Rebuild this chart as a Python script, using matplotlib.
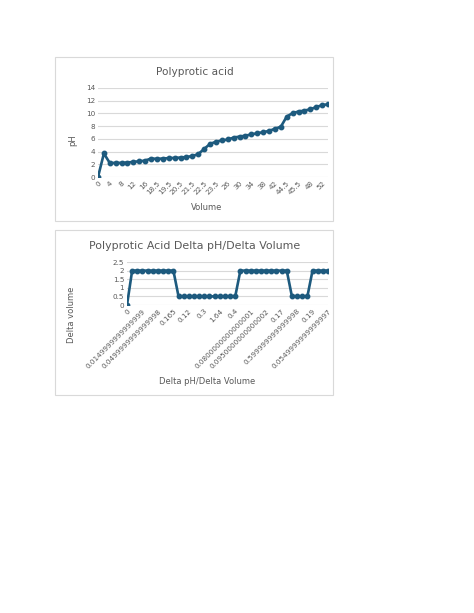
import matplotlib.pyplot as plt
from matplotlib.patches import Rectangle

# titration data
volume = [0, 2, 4, 6, 8, 10, 12, 14, 16, 18,
          18.5, 19, 19.5, 20, 20.5, 21, 21.5, 22, 22.5, 23, 23.5, 24,
          26, 28, 30, 32, 34, 36, 38, 40, 42, 44,
          44.5, 45, 45.5, 46, 48, 50, 52, 54]
ph = [0, 3.7, 2.2, 2.23, 2.23, 2.28, 2.38, 2.48, 2.58, 2.91,
      2.86, 2.91, 2.97, 3.01, 3.06, 3.15, 3.3, 3.6, 4.42, 5.2, 5.55, 5.75,
      5.9, 6.2, 6.36, 6.5, 6.7, 6.89, 7.05, 7.25, 7.59, 7.9,
      9.5, 10.05, 10.3, 10.45, 10.65, 11.0, 11.3, 11.45]

# second chart: categories are dpH/dV, values are delta volume
dph_dv = ["0", "1.85", "-0.75", "0.0149999999999999", "0", "0.025",
          "0.0499999999999998", "0.05", "0.05", "0.165", "-0.1", "0.1",
          "0.12", "0.08", "0.1", "0.3", "0.3", "0.6", "1.64", "1.56",
          "0.7", "0.4", "0.075", "0.15", "0.0800000000000001", "0.07",
          "0.1", "0.0950000000000002", "0.08", "0.1", "0.17", "0.155",
          "3.2", "0.599999999999998", "0.5", "0.3", "0.19", "0.175",
          "0.15", "0.0549999999999997"]
delta_volume = [0] + [2] * 9 + [0.5] * 12 + [2] * 10 + [0.5] * 4 + [2] * 4

W, H = 474, 613
LINE = "#1d5a7e"
TXT = "#595959"
GRID = "#d9d9d9"

plt.rcParams["font.family"] = "DejaVu Sans"
fig = plt.figure(figsize=(W / 100, H / 100), dpi=100)


def box(x0, y0, x1, y1):
    fig.patches.append(Rectangle((x0 / W, 1 - y1 / H), (x1 - x0) / W, (y1 - y0) / H,
                                 transform=fig.transFigure, fill=False,
                                 edgecolor=GRID, linewidth=0.8))


def axes(x0, y0, x1, y1):
    return fig.add_axes([x0 / W, 1 - y1 / H, (x1 - x0) / W, (y1 - y0) / H])


def style(ax, labels, step):
    n = len(labels)
    ax.set_xlim(0, n - 1)
    ax.set_xticks(range(0, n, step))
    ax.set_xticklabels(labels[::step], rotation=45, ha="right", va="top",
                       rotation_mode="anchor", fontsize=5.2, color=TXT)
    ax.tick_params(axis="both", length=0, pad=2, labelsize=5.2, labelcolor=TXT)
    ax.grid(axis="y", color=GRID, linewidth=0.8)
    ax.set_axisbelow(True)
    for s in ax.spines.values():
        s.set_visible(False)


# top chart
box(55, 57, 333, 221)
ax1 = axes(98, 88, 328, 177)
ax1.plot(range(len(ph)), ph, color=LINE, linewidth=1.9, marker="o", markersize=3.2)
ax1.set_ylim(0, 14)
ax1.set_yticks(range(0, 15, 2))
style(ax1, [f"{v:g}" for v in volume], 2)
fig.text(195 / W, 1 - 72 / H, "Polyprotic acid", ha="center", va="center",
         fontsize=7.6, color=TXT)
fig.text(73 / W, 1 - 140 / H, "pH", ha="center", va="center", rotation=90,
         fontsize=6, color=TXT)
fig.text(207 / W, 1 - 207 / H, "Volume", ha="center", va="center",
         fontsize=6, color=TXT)

# bottom chart
box(55, 230, 333, 395)
ax2 = axes(127, 262, 328, 305)
ax2.plot(range(len(delta_volume)), delta_volume, color=LINE, linewidth=1.9,
         marker="o", markersize=3.2)
ax2.set_ylim(0, 2.5)
ax2.set_yticks([0, 0.5, 1, 1.5, 2, 2.5])
ax2.set_yticklabels(["0", "0.5", "1", "1.5", "2", "2.5"])
style(ax2, dph_dv, 3)
fig.text(195 / W, 1 - 246 / H, "Polyprotic Acid Delta pH/Delta Volume",
         ha="center", va="center", fontsize=7.9, color=TXT)
fig.text(72 / W, 1 - 315 / H, "Delta volume", ha="center", va="center",
         rotation=90, fontsize=6, color=TXT)
fig.text(207 / W, 1 - 381 / H, "Delta pH/Delta Volume", ha="center",
         va="center", fontsize=6, color=TXT)

fig.savefig("out.png", dpi=100, facecolor="white")
plt.close(fig)
